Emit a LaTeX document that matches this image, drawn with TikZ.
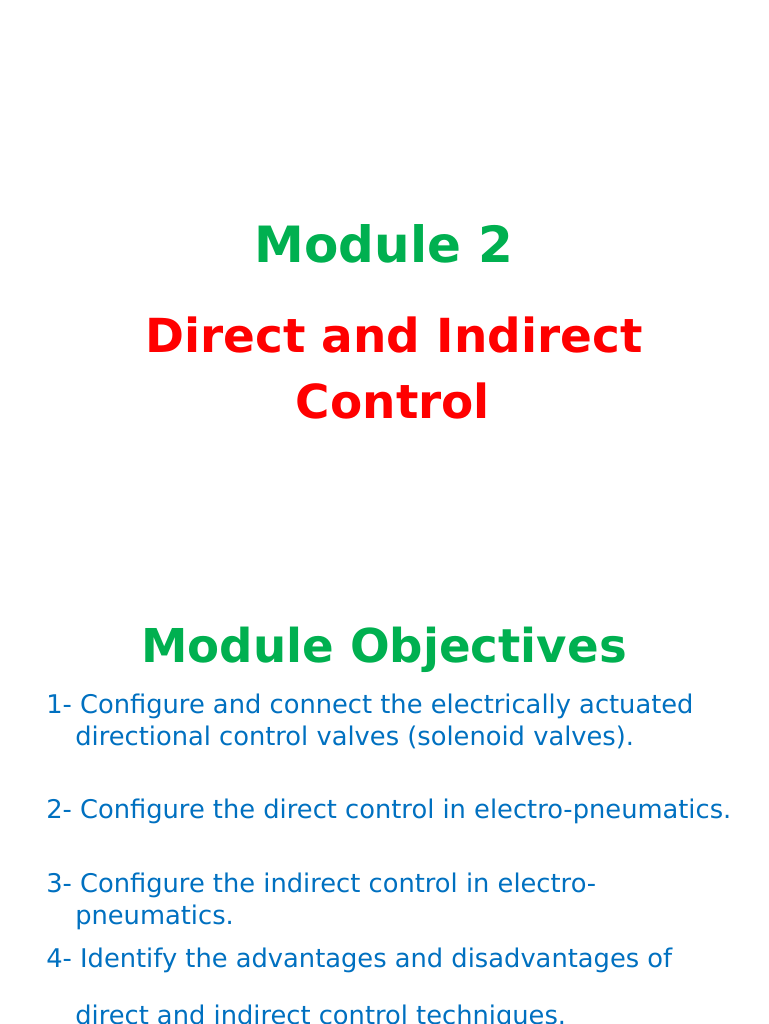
\documentclass[tikz,border=0pt]{standalone}
\usepackage{fontspec}
\setmainfont{DejaVu Sans}
\definecolor{tgreen}{RGB}{0,176,80}
\definecolor{tred}{RGB}{255,0,0}
\definecolor{tblue}{RGB}{0,112,192}
\begin{document}
\begin{tikzpicture}[x=0.75pt,y=-0.75pt,
  title/.style={font=\fontsize{37.5}{46}\selectfont\bfseries,text=tgreen,anchor=base,inner sep=0},
  sub/.style={font=\fontsize{35.2}{44}\selectfont\bfseries,text=tred,anchor=base,inner sep=0},
  body/.style={font=\fontsize{19.3}{22}\selectfont,text=tblue,anchor=base west,inner sep=0}]
\useasboundingbox (0,0) rectangle (768,1024);
\node[title] (m) at (384,262) {Module 2};
\node[sub] (d1) at (394,352) {Direct and Indirect};
\node[sub] (d2) at (393,418) {Control};
\node[title,font=\fontsize{35}{44}\selectfont\bfseries] (mo) at (384,662) {Module Objectives};
\node[body] (a1) at (46,713) {1- Configure and connect the electrically actuated};
\node[body] (a2) at (75,745) {directional control valves (solenoid valves).};
\node[body] (b1) at (46,818) {2- Configure the direct control in electro-pneumatics.};
\node[body] (c1) at (46,892) {3- Configure the indirect control in electro-};
\node[body] (c2) at (75,924) {pneumatics.};
\node[body] (e1) at (46,967) {4- Identify the advantages and disadvantages of};
\node[body] (e2) at (75,1024) {direct and indirect control techniques.};
\end{tikzpicture}
\end{document}
